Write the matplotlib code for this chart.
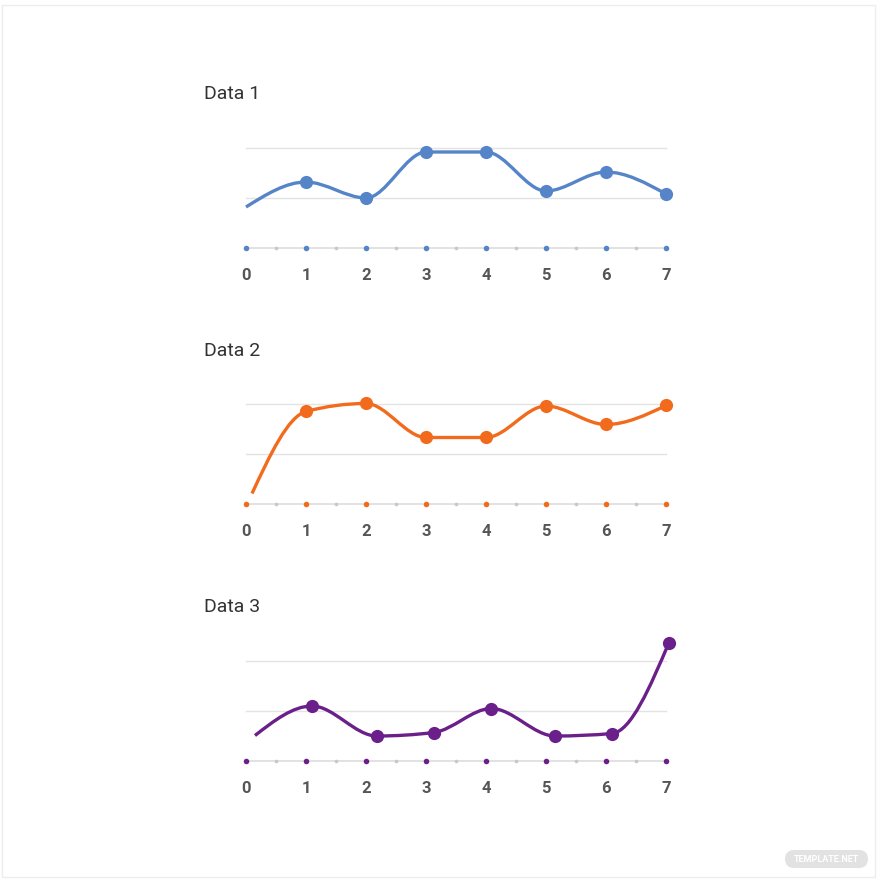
import numpy as np
import matplotlib.pyplot as plt
from matplotlib.path import Path
from matplotlib.patches import PathPatch, FancyBboxPatch, Rectangle

plt.rcParams['font.family'] = ['Roboto', 'DejaVu Sans']

# ----------------------------
# data
# ----------------------------
titles = ["Data 1", "Data 2", "Data 3"]
colors = ["#5585c8", "#f26b1d", "#6a1f8a"]
tick_labels = ["0", "1", "2", "3", "4", "5", "6", "7"]

# first point of each line is the unmarked start of the curve
x1 = [0.0, 1.0, 2.0, 3.0, 4.0, 5.0, 6.0, 7.0]
y1 = [0.82, 1.32, 1.00, 1.92, 1.92, 1.14, 1.52, 1.08]

x2 = [0.1, 1.0, 2.0, 3.0, 4.0, 5.0, 6.0, 7.0]
y2 = [0.21, 1.85, 2.01, 1.33, 1.33, 1.96, 1.59, 1.97]

x3 = [0.15, 1.1, 2.18, 3.13, 4.09, 5.15, 6.1, 7.05]
y3 = [0.51, 1.10, 0.50, 0.57, 1.05, 0.50, 0.55, 2.37]

series = [(x1, y1), (x2, y2), (x3, y3)]
grid_levels = [1, 2]


def monotone_path(xs, ys):
    """Monotone cubic (d3 monotoneX style) bezier path through the points."""
    x = np.asarray(xs, float)
    y = np.asarray(ys, float)
    n = len(x)
    h = np.diff(x)
    s = np.diff(y) / h
    t = np.zeros(n)
    for i in range(1, n - 1):
        p = (s[i - 1] * h[i] + s[i] * h[i - 1]) / (h[i - 1] + h[i])
        t[i] = (np.sign(s[i - 1]) + np.sign(s[i])) * min(abs(s[i - 1]), abs(s[i]), 0.5 * abs(p))
    t[0] = (3 * s[0] - t[1]) / 2
    t[-1] = (3 * s[-1] - t[-2]) / 2
    verts = [(x[0], y[0])]
    codes = [Path.MOVETO]
    for i in range(n - 1):
        d = h[i] / 3
        verts += [(x[i] + d, y[i] + t[i] * d),
                  (x[i + 1] - d, y[i + 1] - t[i + 1] * d),
                  (x[i + 1], y[i + 1])]
        codes += [Path.CURVE4] * 3
    return Path(verts, codes)


W, H = 880, 880
fig = plt.figure(figsize=(8.8, 8.8), dpi=100)
fig.patch.set_facecolor("white")

# faint frame around the card
fig.add_artist(Rectangle((2 / W, 3 / H), 873 / W, 872 / H, transform=fig.transFigure,
                         fill=False, edgecolor="#ededed", linewidth=1))

x_lo, x_hi = -0.1, 7.1
y_lo, y_hi = -0.1, 2.6
px_per_x = 60
px_per_y = 50
baselines = [248, 504, 761]   # pixel row of y=0 for each panel
title_rows = [94, 351, 607]

for k, ((xs, ys), col, title) in enumerate(zip(series, colors, titles)):
    left = 246 + x_lo * px_per_x
    width = (x_hi - x_lo) * px_per_x
    bottom_px = baselines[k] - y_lo * px_per_y
    height = (y_hi - y_lo) * px_per_y
    ax = fig.add_axes([left / W, 1 - bottom_px / H, width / W, height / H])
    ax.set_xlim(x_lo, x_hi)
    ax.set_ylim(y_lo, y_hi)
    ax.axis("off")

    # grid lines and baseline
    for g in grid_levels:
        ax.plot([0, 7], [g, g], color="#e3e3e3", lw=1.0, zorder=1)
    ax.plot([0, 7], [0, 0], color="#dddddd", lw=1.2, zorder=1)

    # baseline dots: coloured at integers, grey at half steps
    ticks = np.arange(len(tick_labels))
    ax.scatter(ticks, np.zeros(len(ticks)), s=16, color=col, zorder=3, linewidths=0)
    halves = ticks[:-1] + 0.5
    ax.scatter(halves, np.zeros(len(halves)), s=7, color="#c8c8c8", zorder=3, linewidths=0)

    for t, lab in zip(ticks, tick_labels):
        ax.text(t, -27 / px_per_y, lab, ha="center", va="center", fontsize=12,
                fontweight="bold", color="#565656", clip_on=False)

    # smooth line + markers
    ax.add_patch(PathPatch(monotone_path(xs, ys), fill=False, edgecolor=col, lw=2.4,
                           capstyle="butt", zorder=4, clip_on=False))
    ax.plot(xs[1:], ys[1:], "o", color=col, markersize=9.5, markeredgewidth=0,
            zorder=5, clip_on=False)

    fig.text(204 / W, 1 - title_rows[k] / H, title, ha="left", va="center",
             fontsize=14, color="#333333")

# watermark pill
fig.add_artist(FancyBboxPatch((785 / W, 1 - 868 / H), 83 / W, 18 / H,
                              boxstyle="round,pad=0,rounding_size=0.0105",
                              transform=fig.transFigure, facecolor="#e2e2e2",
                              edgecolor="none"))
fig.text(826 / W, 1 - 859 / H, "TEMPLATE.NET", ha="center", va="center",
         fontsize=6.5, fontweight="bold", color="white")

fig.savefig("out.png", dpi=100, facecolor="white")
